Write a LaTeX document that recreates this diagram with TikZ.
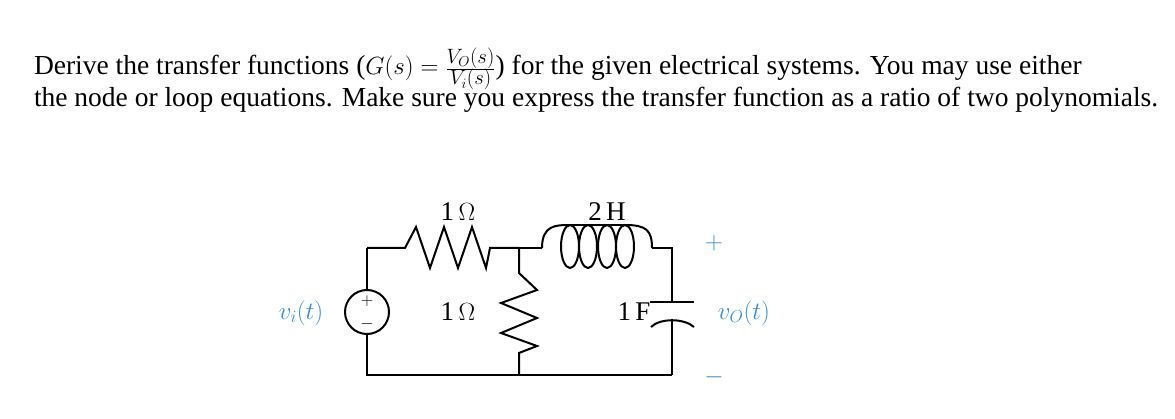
\documentclass[tikz,border=0pt]{standalone}
\usepackage{fontspec}
\setmainfont{Liberation Serif}
\definecolor{cblue}{RGB}{60,140,200}
\begin{document}
\begin{tikzpicture}[x=1pt,y=-1pt,line width=2pt,
  title/.style={anchor=base west,inner sep=0pt,font=\fontsize{27.5}{32}\selectfont},
  lbl/.style={inner sep=0pt,font=\fontsize{27}{30}\selectfont},
  pm/.style={inner sep=0pt,font=\fontsize{18}{20}\selectfont},
  blbl/.style={lbl,text=cblue}]
\useasboundingbox (0,0) rectangle (1175,419);
\node[title] (t1) at (33,75) {Derive the transfer functions ($G(s)=\frac{V_O(s)}{V_i(s)}$) for the given electrical systems. You may use either};
\node[title] (t2) at (33,107) {the node or loop equations. Make sure you express the transfer function as a ratio of two polynomials.};
% nodes
\coordinate (tl) at (367,248);
\coordinate (bl) at (367,375);
\coordinate (tm) at (519,248);
\coordinate (bm) at (519,375);
\coordinate (tr) at (672,248);
\coordinate (br) at (672,375);
\node[circle,draw,minimum size=44pt,inner sep=0pt] (src) at (367,312) {};
\node[pm] (pl) at (367,301) {$+$};
\node[pm] (mi) at (367,324) {$-$};
\draw (tl) -- (src.north) (src.south) -- (bl) -- (bm) -- (br);
\draw (bm) -- (519,353) -- (537,346) -- (501,333) -- (537,318) -- (501,303) -- (537,290) -- (519,273) -- (tm);
\draw (tl) -- (405,248) -- (416,227) -- (430,268) -- (444,227) -- (458,268) -- (472,227) -- (486,268) -- (490,248) -- (tm);
\draw (tm) -- (542,248);
% inductor
\draw (542,248) .. controls (542,225) and (556,225) .. (570,225);
\foreach \cx in {570,588,607,625} \draw (\cx,246.5) ellipse [x radius=9, y radius=21.5];
\draw (570,225) -- (625,225);
\draw (625,225) .. controls (646,225) and (652,230) .. (652,248);
\draw (652,248) -- (tr) -- (672,302);
\draw (650,302) -- (694,302);
\draw (651,327) .. controls (660,318) and (684,318) .. (694,327);
\draw (672,319) -- (br);
\node[lbl] (r1) at (458,212) {1\,$\Omega$};
\node[lbl] (l1) at (607,212) {2\,H};
\node[lbl] (r2) at (458,312) {1\,$\Omega$};
\node[lbl] (c1) at (634,312) {1\,F};
\node[blbl] (vi) at (301,313) {$v_i(t)$};
\node[blbl] (vo) at (744,313) {$v_O(t)$};
\node[blbl] (vp) at (714,243) {$+$};
\node[blbl] (vm) at (714,377) {$-$};
\end{tikzpicture}
\end{document}
